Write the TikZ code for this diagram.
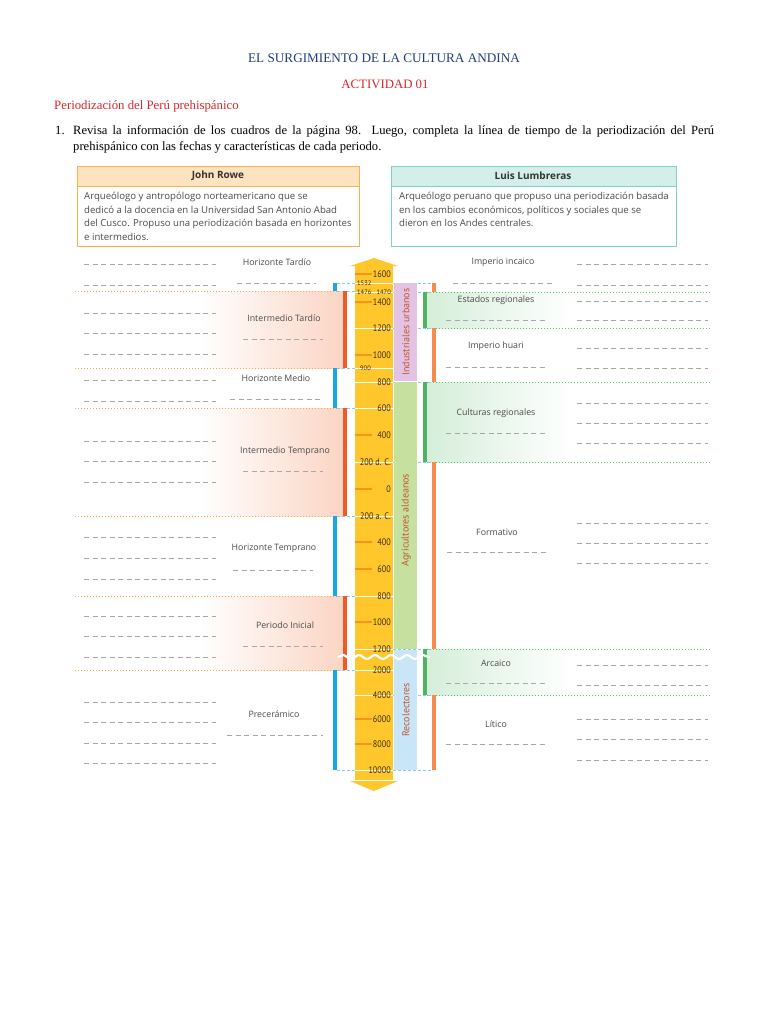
\documentclass[tikz,border=0pt]{standalone}
\usepackage{fontspec}
\setmainfont{Liberation Serif}
\newfontfamily\sansfont{Open Sans}
\newfontfamily\narrowfont{PT Sans}
\usetikzlibrary{positioning,shapes,decorations.pathmorphing}

\definecolor{azulTitulo}{HTML}{213C7E}
\definecolor{rojoTitulo}{HTML}{D7262B}
\definecolor{naranjaBorde}{HTML}{F9B04F}
\definecolor{naranjaHead}{HTML}{FDE3C0}
\definecolor{tealBorde}{HTML}{7FD3C6}
\definecolor{tealHead}{HTML}{D4EEEA}
\definecolor{amarillo}{HTML}{FFC72C}
\definecolor{tickNar}{HTML}{F7941D}
\definecolor{azulHor}{HTML}{1AA7E0}
\definecolor{rojoInt}{HTML}{F15A24}
\definecolor{salmon}{HTML}{FBD5C4}
\definecolor{naranjaLum}{HTML}{F58B4C}
\definecolor{verdeLum}{HTML}{4DB560}
\definecolor{verdeClaro}{HTML}{D6EEDA}
\definecolor{rosaBar}{HTML}{E3C3E3}
\definecolor{verdeBar}{HTML}{C6E09F}
\definecolor{celesteBar}{HTML}{C8E6F8}
\definecolor{textoBar}{HTML}{C0562C}
\definecolor{textoAnio}{HTML}{3B2C0E}
\definecolor{grisTexto}{HTML}{4A4A4A}
\definecolor{grisLinea}{HTML}{A8A8A8}
\definecolor{celesteLinea}{HTML}{8EC9EA}
\definecolor{puntosNar}{HTML}{F9A94B}
\definecolor{puntosVer}{HTML}{57C46A}

\tikzset{
  periodo/.style={font=\sansfont\fontsize{8.8}{10}\selectfont, text=grisTexto, inner sep=0pt},
  respuesta/.style={draw=grisLinea, line width=0.8pt, dash pattern=on 5pt off 3.5pt},
  anio/.style={font=\narrowfont\fontsize{9.5}{10}\selectfont, text=textoAnio, anchor=east, inner sep=0pt},
  aniochico/.style={font=\narrowfont\fontsize{6.5}{7}\selectfont, text=textoAnio, inner sep=0pt},
  cuadro/.style={font=\sansfont\fontsize{9.6}{13.7}\selectfont, text=grisTexto, align=left, anchor=north west, inner sep=0pt},
  cabecera/.style={font=\sansfont\bfseries\fontsize{10}{11}\selectfont, text=black!80},
  etapa/.style={font=\narrowfont\fontsize{10}{11}\selectfont, text=textoBar, rotate=90, inner sep=0pt},
  limite/.style={celesteLinea, line width=0.7pt, dash pattern=on 3pt off 2pt}
}

\begin{document}
\begin{tikzpicture}[x=1pt, y=-1pt]
    \useasboundingbox[fill=white] (0,0) rectangle (768,1024);

    % Encabezado
    \node[font=\fontsize{13.2}{15}\selectfont, text=azulTitulo] (titulo) at (384,58) {EL SURGIMIENTO DE LA CULTURA ANDINA};
    \node[font=\fontsize{12.8}{15}\selectfont, text=rojoTitulo] (actividad) at (385,84) {ACTIVIDAD 01};
    \node[font=\fontsize{12.8}{15}\selectfont, text=rojoTitulo, anchor=west, inner sep=0pt] (subtitulo) at (54,106) {Periodización del Perú prehispánico};
    \node[font=\fontsize{12.6}{16}\selectfont, anchor=base west, inner sep=0pt] (numero) at (55,135) {1.};
    \node[font=\fontsize{12.6}{16}\selectfont, anchor=north west, text width=641pt, align=justify, inner sep=0pt] (consigna) at (73,125.5)
        {Revisa la información de los cuadros de la página 98. Luego, completa la línea de tiempo de la periodización del Perú \mbox{prehispánico} con las fechas y características de cada periodo.};

    % Cuadros de los autores
    \draw[naranjaBorde, fill=naranjaHead] (77,166) rectangle (359,186);
    \draw[naranjaBorde] (77,166) rectangle (359,246);
    \node[cabecera] (rowe) at (218,176) {John Rowe};
    \node[cuadro] (roweTexto) at (84,192) {Arqueólogo y antropólogo norteamericano que se\\dedicó a la docencia en la Universidad San Antonio Abad\\del Cusco. Propuso una periodización basada en horizontes\\e intermedios.};
    \draw[tealBorde, fill=tealHead] (391,166) rectangle (676,186);
    \draw[tealBorde] (391,166) rectangle (676,246);
    \node[cabecera] (lumbreras) at (533,176) {Luis Lumbreras};
    \node[cuadro] (lumbTexto) at (399,192) {Arqueólogo peruano que propuso una periodización basada\\en los cambios económicos, políticos y sociales que se\\dieron en los Andes centrales.};

    % Fondos de los periodos intermedios y regionales
    \foreach \a/\b in {291/368, 408/516, 596/670}
        \shade[left color=white, right color=salmon] (200,\a) rectangle (343,\b);
    \foreach \a/\b in {292/328, 382/462, 649/695}
        \shade[left color=verdeClaro, right color=white] (427,\a) rectangle (572,\b);
    \foreach \y in {291,368,408,516,596,670}
        \draw[puntosNar, line width=1pt, dotted] (75,\y) -- (343,\y);
    \foreach \y in {292,328,382,462,649,695}
        \draw[puntosVer, line width=1pt, dotted] (427,\y) -- (710,\y);
    \foreach \y in {283,291,368,408,516,596,670,770}
        \draw[limite] (337,\y) -- (355,\y);
    \foreach \y in {283,292,328,382,462,649,695,770}
        \draw[limite] (393,\y) -- (432,\y);

    % Barra del tiempo
    \fill[amarillo] (355,266) rectangle (393,780);
    \fill[amarillo] (350,266) -- (374,258) -- (398,266) -- cycle;
    \fill[amarillo] (350,781) -- (398,781) -- (374,791) -- cycle;
    \foreach \y in {283,292,328,368,382,408,462,516,596,649,670,695,770}
        \draw[white, line width=1pt] (355,\y) -- (393,\y);
    \foreach \y in {274,302,355,435,489,542,569,622,719,744}
        \draw[tickNar, line width=1.2pt] (355,\y) -- (372,\y);

    % Etapas de Lumbreras
    \fill[rosaBar] (394,283) rectangle (417,381);
    \fill[verdeBar] (394,382) rectangle (417,649);
    \fill[celesteBar] (394,650) rectangle (417,770);
    \node[etapa] (industriales) at (406,332) {Industriales urbanos};
    \node[etapa] (agricultores) at (406,520) {Agricultores aldeanos};
    \node[etapa] (recolectores) at (406,710) {Recolectores};

    % Barras de horizontes e intermedios
    \foreach \a/\b in {283/291, 368/408, 516/596, 670/770}
        \fill[azulHor] (333,\a) rectangle (337,\b);
    \foreach \a/\b in {291/368, 408/516, 596/670}
        \fill[rojoInt] (343,\a) rectangle (347,\b);
    \foreach \a/\b in {292/328, 382/462, 649/695}
        \fill[verdeLum] (423,\a) rectangle (427,\b);
    \foreach \a/\b in {283/292, 328/382, 462/649, 695/770}
        \fill[naranjaLum] (432,\a) rectangle (436,\b);

    % Corte de la escala
    \draw[white, line width=2.2pt, decorate, decoration={snake, amplitude=2pt, segment length=16pt}] (338,657) -- (430,657);

    % Fechas
    \foreach \y/\t [count=\i] in {274/1600, 302/1400, 328/1200, 355/1000, 382/800, 408/600, 435/400,
        462/200 d. C., 489/0, 516/200 a. C., 542/400, 569/600, 596/800, 622/1000, 649/1200,
        670/2000, 695/4000, 719/6000, 744/8000, 770/10000}
        \node[anio] (anio\i) at (391,\y) {\scalebox{0.86}[1]{\t}};
    \node[aniochico, anchor=west] (a1532) at (357,283) {1532};
    \node[aniochico, anchor=west] (a1476) at (357,292) {1476};
    \node[aniochico, anchor=east] (a1470) at (391,292) {1470};
    \node[aniochico, anchor=west] (a900) at (360,368) {900};

    % Periodos de Rowe
    \foreach \x/\y/\t/\a/\b/\u [count=\i] in {
        277/262/Horizonte Tardío/237/316/283,
        284/318/Intermedio Tardío/243/323/339,
        276/378/Horizonte Medio/230/320/399,
        285/451/Intermedio Temprano/243/323/471,
        274/548/Horizonte Temprano/233/313/570,
        285/625/Periodo Inicial/243/323/646,
        274/714/Precerámico/227/323/735}{
        \node[periodo] (rowe\i) at (\x,\y) {\t};
        \draw[respuesta] (\a,\u) -- (\b,\u);
    }

    % Periodos de Lumbreras
    \foreach \x/\y/\t/\u [count=\i] in {
        503/262/Imperio incaico/283,
        496/300/Estados regionales/320,
        496/346/Imperio huari/367,
        496/413/Culturas regionales/433,
        497/532/Formativo/552,
        496/663/Arcaico/683,
        496/724/Lítico/744}{
        \node[periodo] (lumb\i) at (\x,\y) {\t};
        \draw[respuesta] (\x-50,\u) -- (\x+50,\u);
    }

    % Lineas para responder
    \foreach \y in {264,285,313,333,354,380,401,441,461,482,537,558,579,616,636,657,702,722,743,763}
        \draw[respuesta] (84,\y) -- (216,\y);
    \foreach \y in {264,285,301,320,348,368,403,423,443,523,543,563,665,685,719,739,760}
        \draw[respuesta] (577,\y) -- (708,\y);
\end{tikzpicture}
\end{document}
